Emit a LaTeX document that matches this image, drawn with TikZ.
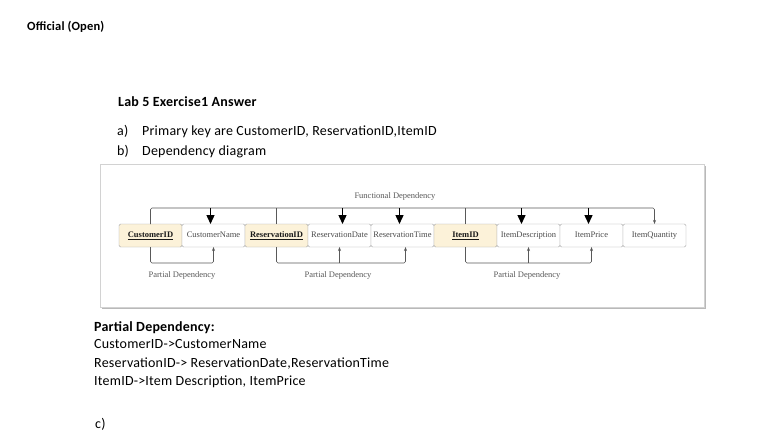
\documentclass[tikz,border=0pt]{standalone}
\usepackage{fontspec}
\setmainfont{Carlito}[LetterSpace=1.5]
\newfontfamily\diagfont{Liberation Serif}
\usetikzlibrary{arrows.meta,positioning}
\definecolor{keyfill}{HTML}{FCF2D9}

\begin{document}
\begin{tikzpicture}[x=1pt, y=-1pt,
  txt/.style={anchor=base west, inner sep=0pt, font=\fontsize{14}{16}\selectfont},
  attr/.style={draw=gray!70, rounded corners=1.5pt, fill=white, minimum width=63pt, minimum height=23pt, inner sep=1pt, outer sep=0pt, text height=6pt, text depth=2pt, font=\diagfont\fontsize{8.5}{10}\selectfont, text=black!70},
  key/.style={attr, fill=keyfill, text=black!90},
  fdline/.style={draw=black!65, line width=0.6pt},
  fdarrow/.style={-{Triangle[length=9pt, width=8pt]}, line width=1.4pt},
  pdarrow/.style={fdline, -{Stealth[length=4pt, width=3pt]}},
  lbl/.style={font=\diagfont\fontsize{8.5}{10}\selectfont, text=black!65, inner sep=0pt}
]
\useasboundingbox (0,0) rectangle (784,441);

\node[txt, font=\bfseries\fontsize{12.5}{14}\selectfont] (official) at (27,31) {Official (Open)};
\node[txt, font=\bfseries\fontsize{14}{16}\selectfont] (title) at (118,107) {Lab 5 Exercise1 Answer};
\node[txt] (qa) at (117,135.5) {a)};
\node[txt] (ansa) at (142,135.5) {Primary key are CustomerID, ReservationID,ItemID};
\node[txt] (qb) at (117,155) {b)};
\node[txt] (ansb) at (142,155) {Dependency diagram};

% screenshot panel
\fill[gray!55] (102,166) rectangle (706,309);
\filldraw[fill=white, draw=gray!35] (100,164) rectangle (704,307);

\node[key, anchor=west] (cid) at (119,235.5) {\underline{\textbf{CustomerID}}};
\node[attr, right=0pt of cid] (cname) {CustomerName};
\node[key, right=0pt of cname] (rid) {\underline{\textbf{ReservationID}}};
\node[attr, right=0pt of rid] (rdate) {ReservationDate};
\node[attr, right=0pt of rdate] (rtime) {ReservationTime};
\node[key, right=0pt of rtime] (iid) {\underline{\textbf{ItemID}}};
\node[attr, right=0pt of iid] (idesc) {ItemDescription};
\node[attr, right=0pt of idesc] (iprice) {ItemPrice};
\node[attr, right=0pt of iprice] (iqty) {ItemQuantity};

\coordinate (fdtop) at (0,208);
\coordinate (pdbot) at (0,263);

\node[lbl] (fdlabel) at (395,196) {Functional Dependency};
\draw[pdarrow, rounded corners=1.5pt] (cid.north) |- (iqty.north |- fdtop) -- (iqty.north);
\draw[fdline] (rid.north) -- (rid.north |- fdtop);
\draw[fdline] (iid.north) -- (iid.north |- fdtop);
\foreach \t/\dx in {cname/-3,rdate/3,rtime/-3,idesc/-7,iprice/-3}
  \draw[fdarrow] ([xshift=\dx pt]\t.north |- fdtop) -- ([xshift=\dx pt]\t.north);

\draw[pdarrow, rounded corners=1.5pt] (cid.south) |- (cname.south |- pdbot) -- (cname.south);
\draw[pdarrow, rounded corners=1.5pt] (rid.south) |- ([xshift=3pt]rtime.south |- pdbot) -- ([xshift=3pt]rtime.south);
\draw[pdarrow] (rdate.south |- pdbot) -- (rdate.south);
\draw[pdarrow, rounded corners=1.5pt] (iid.south) |- (iprice.south |- pdbot) -- (iprice.south);
\draw[pdarrow] (idesc.south |- pdbot) -- (idesc.south);

\node[lbl] (pd1) at (182,275) {Partial Dependency};
\node[lbl] (pd2) at (338,275) {Partial Dependency};
\node[lbl] (pd3) at (527,275) {Partial Dependency};

\node[txt, font=\bfseries\fontsize{14}{16}\selectfont] (pdhead) at (94,331.5) {Partial Dependency:};
\node[txt] (pdcust) at (94,348.5) {CustomerID->CustomerName};
\node[txt] (pdres) at (94,367) {ReservationID-> ReservationDate,ReservationTime};
\node[txt] (pditem) at (94,385.5) {ItemID->Item Description, ItemPrice};
\node[txt] (qc) at (95,428) {c)};
\end{tikzpicture}
\end{document}
